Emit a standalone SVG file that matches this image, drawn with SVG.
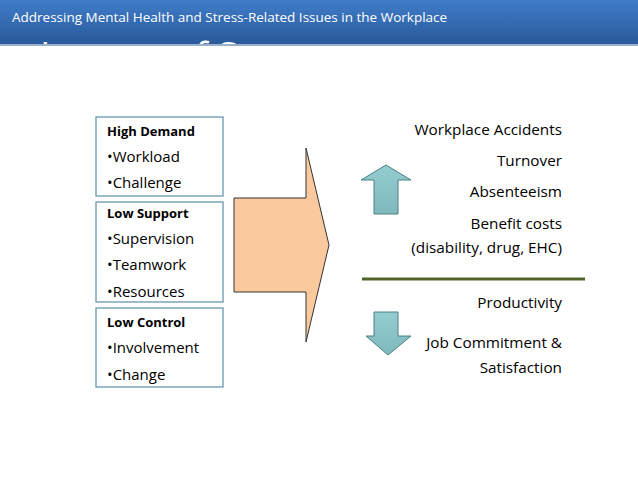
<svg xmlns="http://www.w3.org/2000/svg" width="638" height="478" viewBox="0 0 638 478">
<defs>
<linearGradient id="hdr" x1="0" y1="0" x2="0" y2="1"><stop offset="0" stop-color="#3f7cc9"/><stop offset="1" stop-color="#2a5a9a"/></linearGradient>
<linearGradient id="arr" x1="0" y1="0" x2="0" y2="1"><stop offset="0" stop-color="#93cdd0"/><stop offset="1" stop-color="#7fb9bd"/></linearGradient>
<clipPath id="hc"><rect x="0" y="0" width="638" height="44"/></clipPath>
</defs>
<style>
text{font-family:"Open Sans","Liberation Sans",sans-serif;fill:#000}
.b{font-size:15px}.h{font-size:13px;font-weight:bold}
.r{font-size:15.3px;text-anchor:end}
.box{fill:#fff;stroke:#5b8fa8;stroke-width:1.2}
</style>
<rect width="638" height="478" fill="#fff"/>
<g id="header">
<rect x="0" y="0" width="638" height="44" fill="url(#hdr)"/>
<text x="12" y="22" style="font-size:13.5px;fill:#fff">Addressing Mental Health and Stress-Related Issues in the Workplace</text>
<text x="40" y="70" clip-path="url(#hc)" style="font-size:38px;fill:#fff">Impact of Stress</text>
<rect x="0" y="44" width="638" height="2" fill="#9bb0c8"/>
</g>
<g id="box-demand"><rect class="box" x="96" y="117" width="127" height="79"/>
<text class="h" x="107" y="136">High Demand</text><text class="b" x="107" y="162">•Workload</text><text class="b" x="107" y="188">•Challenge</text></g>
<g id="box-support"><rect class="box" x="96" y="202" width="127" height="100"/>
<text class="h" x="107" y="218">Low Support</text><text class="b" x="107" y="244">•Supervision</text><text class="b" x="107" y="270">•Teamwork</text><text class="b" x="107" y="297">•Resources</text></g>
<g id="box-control"><rect class="box" x="96" y="308" width="127" height="79"/>
<text class="h" x="107" y="327">Low Control</text><text class="b" x="107" y="353">•Involvement</text><text class="b" x="107" y="380">•Change</text></g>
<g id="connectors">
<path d="M234 198H306V148L329 245L306 342V292H234Z" fill="#fac99e" stroke="#333" stroke-width="1"/>
<path d="M374 214V180H361L386 165L411 180H398V214Z" fill="url(#arr)" stroke="#4a7f85" stroke-width="1"/>
<path d="M374 312V336H366L388 355L411 336H398V312Z" fill="url(#arr)" stroke="#4a7f85" stroke-width="1"/>
<line x1="362" y1="279" x2="585" y2="279" stroke="#4f6228" stroke-width="3"/>
</g>
<g id="outcomes">
<text class="r" x="562" y="135">Workplace Accidents</text>
<text class="r" x="562" y="166">Turnover</text>
<text class="r" x="562" y="197">Absenteeism</text>
<text class="r" x="562" y="229">Benefit costs</text>
<text class="r" x="562" y="253">(disability, drug, EHC)</text>
<text class="r" x="562" y="308">Productivity</text>
<text class="r" x="562" y="348">Job Commitment &amp;</text>
<text class="r" x="562" y="373">Satisfaction</text>
</g>
</svg>
